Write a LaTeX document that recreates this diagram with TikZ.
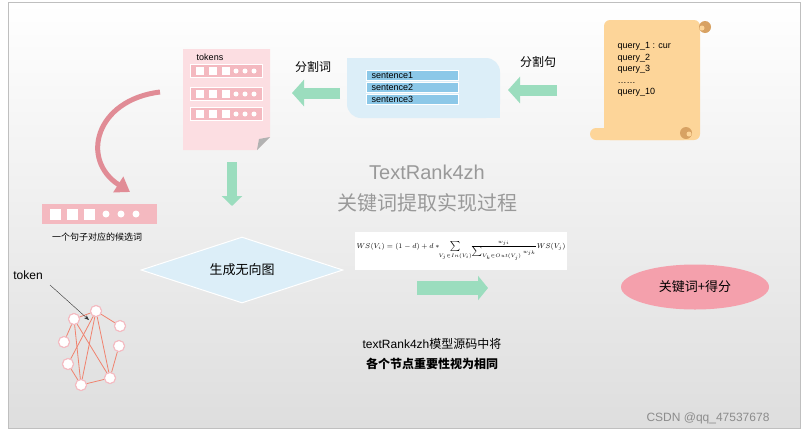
\documentclass[tikz,border=0pt]{standalone}
\usepackage{fontspec}
\setmainfont{Liberation Sans}
\newfontfamily\cjk{Noto Sans CJK SC}
\usetikzlibrary{shapes.geometric,arrows.meta}
\definecolor{gr}{RGB}{155,221,190}
\definecolor{pk}{RGB}{252,222,226}
\definecolor{pkd}{RGB}{244,185,192}
\definecolor{lb}{RGB}{220,238,248}
\definecolor{bb}{RGB}{140,200,232}
\definecolor{or}{RGB}{253,213,153}
\definecolor{el}{RGB}{244,160,172}
\definecolor{ln}{RGB}{240,130,110}
\definecolor{cv}{RGB}{225,140,150}
\tikzset{
 garrow/.style={gr,line width=11pt,-{Triangle[length=12pt,width=26pt]}},
 gnode/.style={circle,draw=pkd,line width=1pt,fill=white,minimum size=11pt,inner sep=0pt},
 gedge/.style={ln,line width=0.8pt},
 sq/.style={fill=white,draw=none,minimum size=8pt,inner sep=0pt},
 dot/.style={circle,fill=white,minimum size=5pt,inner sep=0pt},
 bar/.style={fill=bb,draw=white,minimum width=92pt,minimum height=10pt,inner sep=0pt},
 stxt/.style={font=\fontsize{9}{9}\selectfont,anchor=west},
 lab/.style={font=\cjk\fontsize{12}{12}\selectfont},
}
\begin{document}
\begin{tikzpicture}[x=1pt,y=-1pt]
\useasboundingbox (0,0) rectangle (809,437);
\shade[top color=white,bottom color=black!13] (8,2) rectangle (800,428);
\draw[black!25] (8,2) rectangle (800,428);
% tokens doc
\fill[pk] (183,49) -- (270,49) -- (270,137) -- (257,150) -- (183,150) -- cycle;
\fill[black!30] (270,137) -- (257,150) -- (259,139) -- cycle;
\node[font=\fontsize{9}{9}\selectfont] (tk) at (210,57) {tokens};
\foreach \y/\n in {71/ra,94/rb,114/rc}{
 \node[fill=pkd,draw=white,minimum width=72pt,minimum height=13pt,inner sep=0pt] (\n) at (226,\y) {};
 \foreach \i in {0,1,2}{\node[sq] at (200+\i*13,\y) {};}
 \foreach \i in {0,1,2}{\node[dot] at (236+\i*9,\y) {};}
}
% curved arrow
\coordinate (ca) at (160,92);
\coordinate (cb) at (130,192);
\draw[line width=5pt,cv,-{Triangle[length=14pt,width=18pt]}] (ca) .. controls (95,100) and (80,160) .. (cb);
% candidate strip
\node[fill=pkd,minimum width=115pt,minimum height=20pt,inner sep=0pt] (cand) at (99,214) {};
\foreach \i in {0,1,2}{\node[sq,minimum size=11pt] at (55+\i*17,214) {};}
\foreach \i in {0,1,2}{\node[dot,minimum size=7pt] at (106+\i*15,214) {};}
\node[font=\cjk\fontsize{9}{9}\selectfont] (candl) at (97,237) {一个句子对应的候选词};
% down arrow
\coordinate (d1) at (232,162);
\coordinate (d2) at (232,206);
\draw[garrow,line width=10pt,-{Triangle[length=10pt,width=20pt]}] (d1) -- (d2);
% diamond
\node[diamond,fill=lb,draw=white,line width=1pt,minimum width=202pt,minimum height=66pt,aspect=3,inner sep=0pt,font=\cjk\fontsize{13}{13}\selectfont] (dia) at (242,270) {生成无向图};
% graph
\node[font=\fontsize{12}{12}\selectfont] (tok) at (28,275) {token};
\node[gnode] (g1) at (96,311) {};
\node[gnode] (g2) at (74,319) {};
\node[gnode] (g3) at (64,342) {};
\node[gnode] (g4) at (120,326) {};
\node[gnode] (g5) at (119,346) {};
\node[gnode] (g6) at (68,364) {};
\node[gnode] (g7) at (81,385) {};
\node[gnode] (g8) at (110,378) {};
\foreach \a/\b in {g1/g2,g1/g4,g1/g6,g1/g7,g1/g8,g2/g3,g2/g7,g2/g8,g6/g7,g7/g8,g8/g5}{\draw[gedge] (\a) -- (\b);}
\foreach \p in {{96,311},{74,319},{64,342},{120,326},{119,346},{68,364},{81,385},{110,378}}{\node[gnode] at (\p) {};}
\coordinate (ts) at (50,285);
\coordinate (te) at (89,320);
\draw[-{Stealth[length=5pt]},black!80] (ts) -- (te);
% sentence box
\fill[lb,rounded corners=14pt] (347,58) rectangle (500,118);
\fill[lb] (347,58) rectangle (380,80);
\fill[lb] (470,90) rectangle (500,118);
\node[bar,anchor=west] (s1) at (366,75) {};
\node[bar,anchor=west] (s2) at (366,87) {};
\node[bar,anchor=west] (s3) at (366,99) {};
\node[stxt] at (368,75) {sentence1};
\node[stxt] at (368,87) {sentence2};
\node[stxt] at (368,99) {sentence3};
\node[lab] (fc) at (313,67) {分割词};
\coordinate (a1) at (340,93);
\coordinate (a2) at (292,93);
\draw[garrow] (a1) -- (a2);
\node[lab] (fj) at (538,62) {分割句};
\coordinate (b1a) at (557,90);
\coordinate (b1b) at (508,90);
\draw[garrow] (b1a) -- (b1b);
% scroll
\fill[or,rounded corners=6pt] (604,20) rectangle (700,140);
\fill[or,rounded corners=6pt] (590,128) rectangle (690,140);
\fill[brown!60!or] (705,27) circle (6pt);
\fill[or] (702,28) circle (2.5pt);
\fill[brown!60!or] (686,133) circle (6pt);
\fill[or] (689,134) circle (2.5pt);
\node[anchor=north west,align=left,font=\fontsize{9}{11.5}\selectfont] (q) at (614,39) {query\_1 : cur\\query\_2\\query\_3\\……\\query\_10};
% title
\node[black!40,font=\fontsize{20}{20}\selectfont] (t1) at (427,172) {TextRank4zh};
\node[black!40,font=\cjk\fontsize{20}{20}\selectfont] (t2) at (427,203) {关键词提取实现过程};
% formula
\fill[white] (355,232) rectangle (567,270);
\node[inner sep=0pt,font=\fontsize{7.5}{7.5}\selectfont] (f) at (461,251) {$WS(V_i)=(1-d)+d*\!\!\sum\limits_{V_j\in In(V_i)}\!\!\frac{w_{ji}}{\sum_{V_k\in Out(V_j)}w_{jk}}WS(V_j)$};
\coordinate (r1) at (417,288);
\coordinate (r2) at (488,288);
\draw[garrow,line width=14pt,-{Triangle[length=10pt,width=24pt]}] (r1) -- (r2);
% ellipse
\node[ellipse,fill=el,minimum width=148pt,minimum height=45pt,font=\cjk\fontsize{13}{13}\selectfont] (res) at (695,287) {关键词+得分};
% bottom text
\node[font=\fontsize{12}{12}\selectfont] (bt1) at (432,344) {textRank4zh{\cjk 模型源码中将}};
\node[font=\cjk\bfseries\fontsize{12}{12}\selectfont] (bt2) at (432,364) {各个节点重要性视为相同};
\node[black!45,font=\fontsize{12}{12}\selectfont] (wm) at (708,418) {CSDN @qq\_47537678};
\end{tikzpicture}
\end{document}
